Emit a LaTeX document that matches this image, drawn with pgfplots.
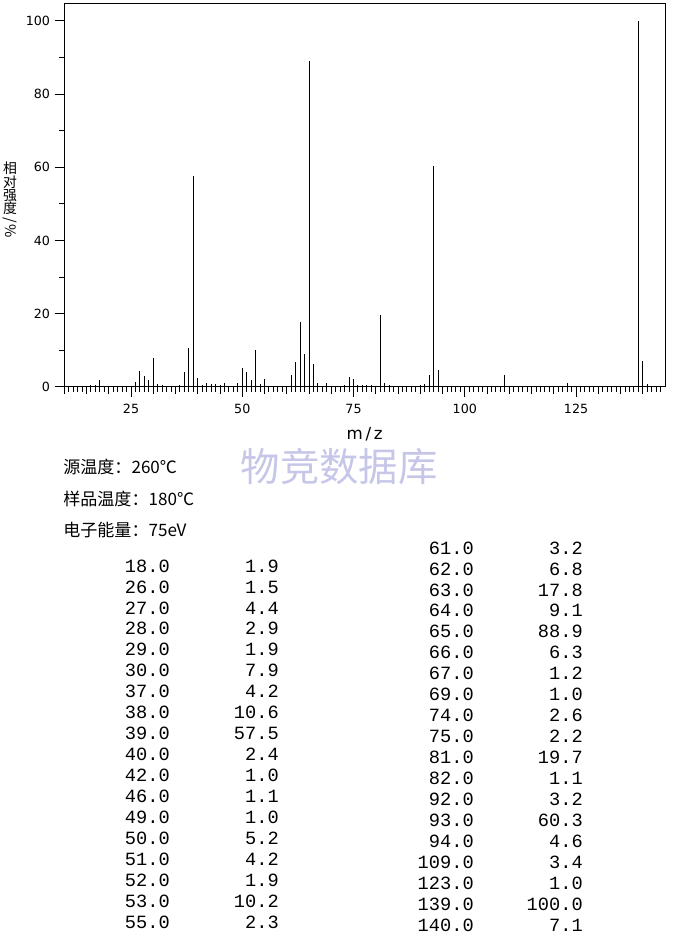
\documentclass[border=0pt]{standalone}
\usepackage{pgfplots}
\pgfplotsset{compat=1.18}
\usepackage{pgfplotstable}
\usepackage{fontspec}
\setmainfont{DejaVu Sans}
\newfontfamily\cjk{Noto Sans CJK SC}
\newfontfamily\mono{Liberation Mono}
\definecolor{wm}{RGB}{198,198,232}

\pgfplotstableread{
m I
14 0.4
16 0.5
17 0.6
18 1.9
26 1.5
27 4.4
28 2.9
29 1.9
30 7.9
31 0.9
32 0.5
36 0.5
37 4.2
38 10.6
39 57.5
40 2.4
41 0.6
42 1.0
43 0.8
44 0.8
45 0.5
46 1.1
48 0.4
49 1.0
50 5.2
51 4.2
52 1.9
53 10.2
54 0.9
55 2.3
56 0.4
57 0.4
61 3.2
62 6.8
63 17.8
64 9.1
65 88.9
66 6.3
67 1.2
68 0.3
69 1.0
71 0.3
72 0.3
73 0.5
74 2.6
75 2.2
76 0.5
77 0.5
78 0.5
79 0.5
80 0.4
81 19.7
82 1.1
83 0.5
84 0.3
85 0.3
89 0.3
90 0.5
91 0.9
92 3.2
93 60.3
94 4.6
95 0.3
104 0.3
106 0.3
107 0.3
108 0.3
109 3.4
110 0.4
122 0.3
123 1.0
124 0.4
138 0.3
139 100.0
140 7.1
141 0.8
}\spec

\begin{document}
\begin{tikzpicture}
\path[use as bounding box] (0,0) rectangle (510pt,701.25pt);
\begin{axis}[
  at={(48.2pt,411pt)}, anchor=south west,
  scale only axis, width=450.6pt, height=287.8pt,
  xmin=10, xmax=145, ymin=0, ymax=104.8,
  axis line style={line width=0.75pt},
  tick pos=left, tick align=outside,
  xtick={25,50,75,100,125},
  minor xtick={11,...,144},
  extra x ticks={10,15,20,30,35,40,45,55,60,65,70,80,85,90,95,105,110,115,120,130,135,140},
  extra x tick labels={},
  extra x tick style={major tick length=5pt},
  ytick={0,20,...,100},
  minor ytick={10,30,...,90},
  major tick length=7.2pt,
  minor tick length=3.6pt,
  tick style={line width=0.75pt, black},
  /pgf/number format/assume math mode=true,
  ticklabel style={font=\fontsize{9.5}{11}\selectfont},
  xticklabel style={yshift=-2pt},
  xlabel={m\,/\,z},
  xlabel style={at={(axis description cs:0.5,0)}, anchor=center, yshift=-35.5pt, font=\fontsize{12.5}{14}\selectfont},
]
\addplot[ycomb, black, line width=0.75pt, mark=none] table[x=m,y=I]{\spec};
\end{axis}
\begin{scope}[x=0.75pt, y=-0.75pt, yshift=701.25pt]
  \node[anchor=north, align=center, inner sep=0pt, font=\cjk\fontsize{10.4}{10}\selectfont] at (10,162) {相\\对\\强\\度};
  \node[anchor=west, rotate=-90, inner sep=0pt, font=\cjk\fontsize{10.8}{10}\selectfont] at (10,217) {/\kern1pt\%};
  \node[text=wm, font=\cjk\fontsize{29.5}{31}\selectfont, inner sep=0pt] at (339,467) {物竞数据库};
  \node[anchor=west, inner sep=0pt, font=\cjk\fontsize{12.8}{14}\selectfont] at (63,467) {源温度：260℃};
  \node[anchor=west, inner sep=0pt, font=\cjk\fontsize{12.8}{14}\selectfont] at (63,499) {样品温度：180℃};
  \node[anchor=west, inner sep=0pt, font=\cjk\fontsize{12.8}{14}\selectfont] at (63,530) {电子能量：75eV};
  \foreach \m/\v [count=\i from 0] in {18.0/1.9, 26.0/1.5, 27.0/4.4, 28.0/2.9, 29.0/1.9, 30.0/7.9, 37.0/4.2, 38.0/10.6, 39.0/57.5, 40.0/2.4, 42.0/1.0, 46.0/1.1, 49.0/1.0, 50.0/5.2, 51.0/4.2, 52.0/1.9, 53.0/10.2, 55.0/2.3} {
    \node[anchor=east, inner sep=0pt, font=\mono\fontsize{14}{16}\selectfont] at (170,{566+20.95*\i}) {\m};
    \node[anchor=east, inner sep=0pt, font=\mono\fontsize{14}{16}\selectfont] at (279,{566+20.95*\i}) {\v};
  }
  \foreach \m/\v [count=\i from 0] in {61.0/3.2, 62.0/6.8, 63.0/17.8, 64.0/9.1, 65.0/88.9, 66.0/6.3, 67.0/1.2, 69.0/1.0, 74.0/2.6, 75.0/2.2, 81.0/19.7, 82.0/1.1, 92.0/3.2, 93.0/60.3, 94.0/4.6, 109.0/3.4, 123.0/1.0, 139.0/100.0, 140.0/7.1} {
    \node[anchor=east, inner sep=0pt, font=\mono\fontsize{14}{16}\selectfont] at (474,{548+20.95*\i}) {\m};
    \node[anchor=east, inner sep=0pt, font=\mono\fontsize{14}{16}\selectfont] at (583,{548+20.95*\i}) {\v};
  }
\end{scope}
\end{tikzpicture}
\end{document}
